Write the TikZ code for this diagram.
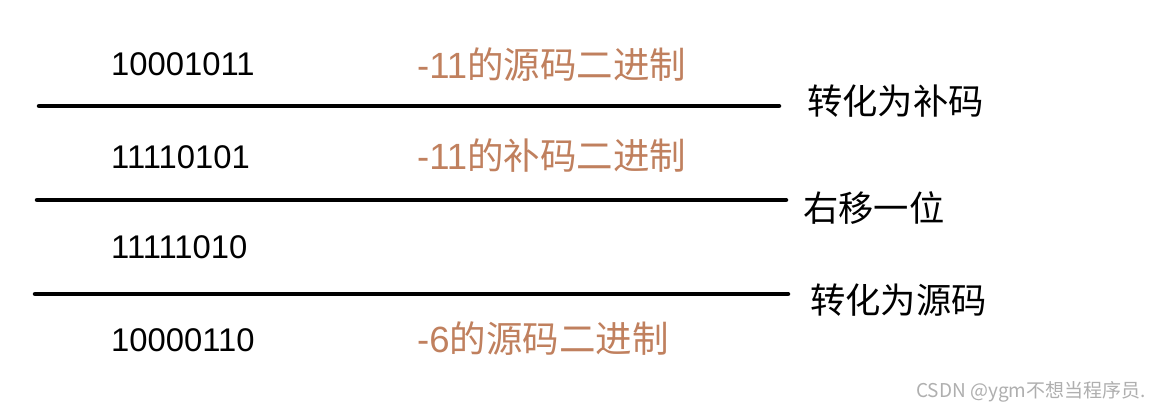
\documentclass[tikz,border=0pt]{standalone}
\usepackage{fontspec}
\setmainfont{Liberation Sans}
\newfontfamily\cjk{Noto Sans CJK SC}
\definecolor{brownlbl}{RGB}{192,128,94}
\definecolor{wmgray}{RGB}{175,175,175}
\begin{document}
\begin{tikzpicture}[x=1pt,y=-1pt,
  bin/.style={anchor=base west, inner sep=0pt, font=\fontsize{32.8}{38}\selectfont},
  note/.style={anchor=base west, inner sep=0pt, text=brownlbl, font=\fontsize{36.5}{42}\selectfont},
  opname/.style={anchor=base west, inner sep=0pt, font=\fontsize{35.3}{42}\selectfont\cjk},
  rulebar/.style={line width=4.5pt, line cap=round}]
\useasboundingbox[fill=white] (0,0) rectangle (1163,412);
% binary rows
\node[bin] (b1) at (111,76) {10001011};
\node[bin] (b2) at (111,168) {11110101};
\node[bin] (b3) at (111,258) {11111010};
\node[bin] (b4) at (111,351) {10000110};
% brown notes
\node[note] (n1) at (417,78) {-11{\cjk 的源码二进制}};
\node[note] (n2) at (417,169) {-11{\cjk 的补码二进制}};
\node[note] (n4) at (417,352) {-6{\cjk 的源码二进制}};
% rules
\coordinate (l1a) at (39,106); \coordinate (l1b) at (779,106);
\coordinate (l2a) at (37,200); \coordinate (l2b) at (786,200);
\coordinate (l3a) at (35,294); \coordinate (l3b) at (788,294);
\draw[rulebar] (l1a) -- (l1b);
\draw[rulebar] (l2a) -- (l2b);
\draw[rulebar] (l3a) -- (l3b);
% operation labels
\node[opname] (o1) at (807,114) {转化为补码};
\node[opname] (o2) at (803,221) {右移一位};
\node[opname] (o3) at (810,313) {转化为源码};
% watermark
\node[anchor=base west, inner sep=0pt, text=wmgray, font=\fontsize{19}{22}\selectfont\cjk] (wm) at (916,397) {CSDN @ygm不想当程序员.};
\end{tikzpicture}
\end{document}
